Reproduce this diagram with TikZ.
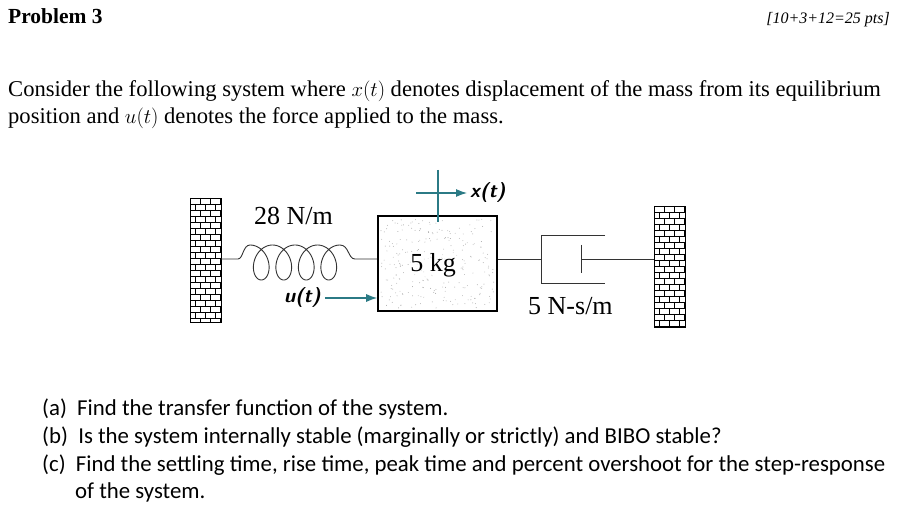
\documentclass[tikz,border=0pt]{standalone}
\usepackage{fontspec}
\setmainfont{Liberation Serif}
\newfontfamily\calib{Carlito}
\usetikzlibrary{arrows.meta}
\begin{document}
\begin{tikzpicture}[x=1pt,y=-1pt,
  txt/.style={anchor=base west,inner sep=0pt,font=\fontsize{22.6}{27}\selectfont},
  dtx/.style={anchor=base west,inner sep=0pt,font=\fontsize{26}{30}\selectfont},
  lst/.style={anchor=base west,inner sep=0pt,font=\calib\fontsize{22.8}{27}\selectfont},
  sfl/.style={anchor=west,inner sep=0pt,font=\sffamily\bfseries\itshape\fontsize{20}{24}\selectfont},
  teal/.style={draw=tealc,line width=1.2pt},
  tarr/.style={teal,-{Latex[length=11pt,width=8pt]}},
  ln/.style={line width=0.9pt,draw=black!80}]
\definecolor{tealc}{HTML}{2B7A85}
\useasboundingbox (0,0) rectangle (902,510);
\fill[white] (0,0) rectangle (902,510);
\node[txt,font=\bfseries\fontsize{21.5}{26}\selectfont] (p) at (8,24) {Problem 3};
\node[txt,anchor=base east,font=\itshape\fontsize{16}{20}\selectfont] (pts) at (890,24) {[10+3+12=25 pts]};
\node[txt] (l1) at (8,97) {Consider the following system where $x(t)$ denotes displacement of the mass from its equilibrium};
\node[txt] (l2) at (8,124) {position and $u(t)$ denotes the force applied to the mass.};
% walls
\newcommand{\brickwall}[4]{%
  \draw[line width=0.8pt] (#1,#2) rectangle (#3,#4);
  \foreach \k in {0,...,40}{
    \pgfmathsetmacro{\yy}{#2+\k*6}
    \ifdim\yy pt<#4pt
      \draw[line width=0.5pt] (#1,\yy) -- (#3,\yy);
      \pgfmathsetmacro{\off}{mod(\k,2)*5}
      \foreach \j in {0,...,4}{
        \pgfmathsetmacro{\xx}{#1+\off+\j*10}
        \pgfmathsetmacro{\yb}{min(\yy+6,#4)}
        \ifdim\xx pt<#3pt \draw[line width=0.5pt] (\xx,\yy) -- (\xx,\yb);\fi
      }
    \fi
  }}
\brickwall{190}{198}{221}{322}
\brickwall{654}{206}{685}{327}
\coordinate (wl) at (221,259);
\coordinate (wr) at (654,259);
% mass
\node[draw,line width=1.6pt,minimum width=119pt,minimum height=95pt,inner sep=0pt] (m) at (437.5,263.5) {};
\pgfmathsetseed{7}
\foreach \i in {1,...,260}{
  \fill[black!35] (381+rnd*113,219+rnd*89) circle (0.45pt);
}
\node[dtx,anchor=center,fill=white,fill opacity=0.5,text opacity=1,inner sep=1pt] (mk) at (433,265) {5 kg};
% spring
\draw[ln] (wl) -- (238,259) .. controls (243,259) and (243,245) .. (250,245)
  -- plot[domain=0:25.1327,samples=240,smooth] ({250+3.581*\x+13*sin(\x r)},{262.5-17.5*cos(\x r)})
  .. controls (349,245) and (348,259) .. (355,259) -- (m.west |- 0,259);
\node[dtx] (k) at (254,225) {28 N/m};
% damper
\draw[ln] (m.east |- 0,259) -- (541,259);
\draw[ln] (605,235) -- (541,235) -- (541,283) -- (605,283);
\draw[ln] (581,245) -- (581,273);
\draw[ln] (581,259) -- (wr);
\node[dtx] (b) at (528,315) {5 N-s/m};
% x(t)
\coordinate (xt) at (438,170);
\draw[teal] (xt) -- (438,222);
\draw[tarr] (416,193) -- (467,193);
\node[sfl] (xl) at (470,193) {x(t)};
% u(t)
\node[sfl] (ul) at (284,298) {u(t)};
\draw[tarr] (ul.east) ++(4,0) -- (m.west |- 0,298);
% questions
\node[lst] (a) at (42,415) {(a)\ \ Find the transfer function of the system.};
\node[lst] (bq) at (42,443) {(b)\ \ Is the system internally stable (marginally or strictly) and BIBO stable?};
\node[lst] (c) at (42,471) {(c)\ \ Find the settling time, rise time, peak time and percent overshoot for the step-response};
\node[lst] (c2) at (75,498) {of the system.};
\end{tikzpicture}
\end{document}
